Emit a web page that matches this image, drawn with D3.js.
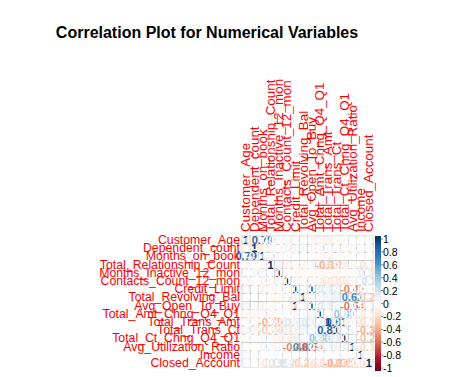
<!DOCTYPE html>
<html>
<head>
<meta charset="utf-8">
<script src="https://cdn.jsdelivr.net/npm/d3@7"></script>
<style>
  body { margin: 0; background: #fff; }
  svg { display: block; font-family: "Liberation Sans", Arial, sans-serif; }
</style>
</head>
<body>
<div id="chart"></div>
<script>
const vars = ["Customer_Age", "Dependent_count", "Months_on_book", "Total_Relationship_Count",
  "Months_Inactive_12_mon", "Contacts_Count_12_mon", "Credit_Limit", "Total_Revolving_Bal",
  "Avg_Open_To_Buy", "Total_Amt_Chng_Q4_Q1", "Total_Trans_Amt", "Total_Trans_Ct",
  "Total_Ct_Chng_Q4_Q1", "Avg_Utilization_Ratio", "Income", "Closed_Account"];

// upper triangle, row by row (values right of the diagonal)
const upper = [
  [-0.12, 0.79, -0.01, 0.05, -0.02, 0.00, 0.01, 0.00, -0.06, -0.05, -0.07, -0.01, 0.01, 0.02, 0.02],
  [-0.10, -0.04, -0.01, -0.04, 0.07, 0.00, 0.07, -0.04, 0.03, 0.05, 0.01, -0.04, 0.05, 0.02],
  [-0.01, 0.07, -0.01, 0.01, 0.01, 0.01, -0.05, -0.04, -0.05, -0.01, -0.01, 0.01, 0.01],
  [0.00, 0.06, -0.07, 0.01, -0.07, 0.05, -0.35, -0.24, 0.04, 0.07, -0.01, -0.15],
  [0.03, -0.02, -0.04, -0.02, -0.03, -0.04, -0.04, -0.04, -0.01, -0.01, 0.15],
  [0.02, -0.05, 0.03, -0.02, -0.11, -0.15, -0.09, -0.06, 0.02, 0.20],
  [0.04, 1.00, 0.01, 0.17, 0.08, 0.00, -0.48, 0.03, -0.02],
  [-0.05, 0.06, 0.06, 0.06, 0.09, 0.62, 0.00, -0.26],
  [0.01, 0.17, 0.07, -0.01, -0.54, 0.03, 0.00],
  [0.04, 0.01, 0.38, 0.04, 0.01, -0.13],
  [0.81, 0.09, -0.08, 0.02, -0.17],
  [0.11, 0.00, -0.02, -0.37],
  [0.07, 0.00, -0.29],
  [-0.03, -0.18],
  [-0.01]
];
const legendTicks = [1, 0.8, 0.6, 0.4, 0.2, 0, -0.2, -0.4, -0.6, -0.8, -1];
const palette = ["#67001F", "#B2182B", "#D6604D", "#F4A582", "#FDDBC7", "#FFFFFF",
  "#D1E5F0", "#92C5DE", "#4393C3", "#2166AC", "#053061"];

const n = vars.length;
const cells = [];
for (let i = 0; i < n; i++) {
  for (let j = 0; j < n; j++) {
    let v;
    if (i === j) v = 1;
    else if (j > i) v = upper[i][j - i - 1];
    else v = upper[j][i - j - 1];
    cells.push({ row: vars[i], col: vars[j], value: v });
  }
}

const width = 474, height = 377;
const grid = { left: 242, top: 236, size: 131 };

const svg = d3.select("#chart").append("svg")
  .attr("width", width)
  .attr("height", height);

svg.append("text")
  .attr("x", 207)
  .attr("y", 38)
  .attr("text-anchor", "middle")
  .style("font-size", "16px")
  .style("font-weight", "bold")
  .text("Correlation Plot for Numerical Variables");

const x = d3.scaleBand().domain(vars).range([grid.left, grid.left + grid.size]);
const y = d3.scaleBand().domain(vars).range([grid.top, grid.top + grid.size]);
const color = d3.scaleLinear()
  .domain(d3.range(11).map(k => -1 + k * 0.2))
  .range(palette);

const fmt = v => String(Math.round(v * 100) / 100);

// grid
svg.append("g").selectAll("rect")
  .data(cells)
  .join("rect")
  .attr("x", d => x(d.col))
  .attr("y", d => y(d.row))
  .attr("width", x.bandwidth())
  .attr("height", y.bandwidth())
  .attr("fill", "#fff")
  .attr("stroke", "#c8c8c8")
  .attr("stroke-width", 0.8);

// coefficients
svg.append("g").selectAll("text")
  .data(cells)
  .join("text")
  .attr("x", d => x(d.col) + x.bandwidth() / 2)
  .attr("y", d => y(d.row) + y.bandwidth() / 2)
  .attr("text-anchor", "middle")
  .attr("dominant-baseline", "central")
  .style("font-size", "11px")
  .style("font-weight", "bold")
  .attr("fill", d => color(d.value))
  .text(d => fmt(d.value));

// row labels
svg.append("g").selectAll("text")
  .data(vars)
  .join("text")
  .attr("x", grid.left - 2)
  .attr("y", d => y(d) + y.bandwidth() / 2)
  .attr("text-anchor", "end")
  .attr("dominant-baseline", "central")
  .style("font-size", "12.3px")
  .attr("fill", "#ff0000")
  .text(d => d);

// column labels (slightly stretched along the text, like the reference)
svg.append("g").selectAll("text")
  .data(vars)
  .join("text")
  .attr("transform", d => `translate(${x(d) + x.bandwidth() / 2},${grid.top - 4}) rotate(-90) scale(1.07,1)`)
  .attr("text-anchor", "start")
  .attr("dominant-baseline", "central")
  .style("font-size", "12.5px")
  .attr("fill", "#ff0000")
  .text(d => d);

// color legend
const lg = { x: 375, w: 6, top: 236, bottom: 371 };
const defs = svg.append("defs");
const grad = defs.append("linearGradient")
  .attr("id", "lgrad").attr("x1", 0).attr("x2", 0).attr("y1", 1).attr("y2", 0);
grad.selectAll("stop")
  .data(palette)
  .join("stop")
  .attr("offset", (d, i) => i / (palette.length - 1))
  .attr("stop-color", d => d);

svg.append("rect")
  .attr("x", lg.x).attr("y", lg.top)
  .attr("width", lg.w).attr("height", lg.bottom - lg.top)
  .attr("fill", "url(#lgrad)");

const ly = d3.scaleLinear().domain([-1, 1]).range([lg.bottom - 3, lg.top + 3]);
const lgTick = svg.append("g").selectAll("g")
  .data(legendTicks)
  .join("g")
  .attr("transform", d => `translate(${lg.x + lg.w},${ly(d)})`);
lgTick.append("line").attr("x1", 0).attr("x2", 2).attr("stroke", "#333").attr("stroke-width", 0.6);
lgTick.append("text")
  .attr("x", 2)
  .attr("dominant-baseline", "central")
  .style("font-size", "10.5px")
  .attr("fill", "#000")
  .text(d => d);
</script>
</body>
</html>
